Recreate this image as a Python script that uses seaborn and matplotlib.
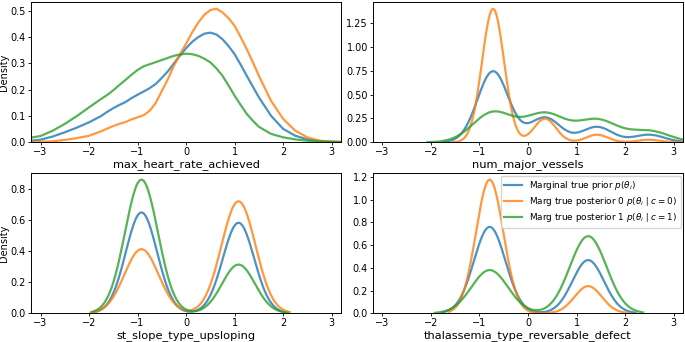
import numpy as np
import pandas as pd
import matplotlib
matplotlib.use("Agg")
import matplotlib.pyplot as plt
import seaborn as sns

# series
LABELS = [
    r"Marginal true prior $p(\theta_i)$",
    r"Marg true posterior 0 $p(\theta_i \mid c=0)$",
    r"Marg true posterior 1 $p(\theta_i \mid c=1)$",
]
COLORS = ["tab:blue", "tab:orange", "tab:green"]

# max_heart_rate_achieved: density
hr_x = [-3.25, -3.0, -2.75, -2.5, -2.25, -2.0, -1.75, -1.625, -1.5, -1.375, -1.25,
        -1.125, -1.0, -0.875, -0.75, -0.625, -0.5, -0.375, -0.25, -0.125, 0.0,
        0.125, 0.25, 0.375, 0.5, 0.625, 0.75, 0.875, 1.0, 1.125, 1.25, 1.375,
        1.5, 1.75, 2.0, 2.25, 2.5, 2.75, 3.0, 3.25]
hr_prior = [0.005, 0.010, 0.022, 0.038, 0.056, 0.076, 0.100, 0.116, 0.130, 0.142, 0.153,
            0.168, 0.181, 0.193, 0.206, 0.222, 0.245, 0.270, 0.300, 0.330, 0.358,
            0.382, 0.400, 0.413, 0.417, 0.410, 0.392, 0.366, 0.335, 0.295, 0.253, 0.212,
            0.171, 0.101, 0.051, 0.025, 0.011, 0.005, 0.002, 0.001]
hr_post0 = [0.001, 0.002, 0.004, 0.009, 0.016, 0.025, 0.042, 0.052, 0.062, 0.070, 0.077,
            0.087, 0.095, 0.103, 0.120, 0.150, 0.195, 0.240, 0.292, 0.335, 0.375,
            0.418, 0.455, 0.485, 0.503, 0.508, 0.494, 0.472, 0.443, 0.400, 0.354, 0.305,
            0.253, 0.158, 0.089, 0.044, 0.019, 0.006, 0.002, 0.001]
hr_post1 = [0.016, 0.024, 0.044, 0.070, 0.100, 0.133, 0.165, 0.180, 0.198, 0.218, 0.237,
            0.257, 0.275, 0.289, 0.297, 0.305, 0.313, 0.321, 0.329, 0.334, 0.337,
            0.335, 0.329, 0.318, 0.304, 0.281, 0.253, 0.216, 0.177, 0.142, 0.108, 0.082,
            0.059, 0.032, 0.019, 0.011, 0.006, 0.003, 0.002, 0.001]

# num_major_vessels: standardized levels, probabilities, kde bandwidth
nmv_levels = [-0.72, 0.35, 1.42, 2.49]
nmv_prior = [0.59, 0.205, 0.128, 0.063]
nmv_post0 = [0.79, 0.14, 0.045, 0.015]
nmv_post1 = [0.328, 0.309, 0.243, 0.124]
nmv_bw = [0.32, 0.227, 0.417]

# st_slope_type_upsloping
slope_levels = [-0.92, 1.08]
slope_prior = [0.527, 0.473]
slope_post0 = [0.364, 0.636]
slope_post1 = [0.733, 0.267]
slope_bw = [0.323, 0.351, 0.339]

# thalassemia_type_reversable_defect
thal_levels = [-0.79, 1.24]
thal_prior = [0.619, 0.381]
thal_post0 = [0.831, 0.169]
thal_post1 = [0.359, 0.641]
thal_bw = [0.325, 0.282, 0.377]

LW = 1.6
ALPHA = 0.8


def kde_line(ax, levels, probs, bw, color, label):
    x = np.asarray(levels, dtype=float)
    w = np.asarray(probs, dtype=float)
    std = np.sqrt(np.cov(x, aweights=w))
    sns.kdeplot(x=x, weights=w, bw_method=bw / std, ax=ax,
                color=color, label=label, lw=LW, alpha=ALPHA)


fig, axes = plt.subplots(2, 2, figsize=(6.85, 3.42), dpi=100)
fig.subplots_adjust(left=0.045, right=0.9975, top=0.994, bottom=0.084,
                    wspace=0.101, hspace=0.219)

# panel 1
ax = axes[0, 0]
for ys, c, lab in zip([hr_prior, hr_post0, hr_post1], COLORS, LABELS):
    sns.lineplot(x=hr_x, y=ys, ax=ax, color=c, label=lab, lw=LW, alpha=ALPHA,
                 legend=False)
ax.set_xlabel("max_heart_rate_achieved")

# panel 2-4
panels = [
    (axes[0, 1], nmv_levels, [nmv_prior, nmv_post0, nmv_post1], nmv_bw, "num_major_vessels"),
    (axes[1, 0], slope_levels, [slope_prior, slope_post0, slope_post1], slope_bw, "st_slope_type_upsloping"),
    (axes[1, 1], thal_levels, [thal_prior, thal_post0, thal_post1], thal_bw, "thalassemia_type_reversable_defect"),
]
for ax, levels, series, bws, name in panels:
    for probs, bw, c, lab in zip(series, bws, COLORS, LABELS):
        kde_line(ax, levels, probs, bw, c, lab)
    ax.set_xlabel(name)

for i, ax in enumerate(axes.flat):
    ax.set_xlim(-3.2, 3.2)
    ax.set_ylim(0, None)
    ax.set_xticks([-3, -2, -1, 0, 1, 2, 3])
    ax.tick_params(labelsize=7, length=2, width=0.6, pad=1.5)
    ax.set_xlabel(ax.get_xlabel(), fontsize=8.2, labelpad=1.5)
    ax.set_ylabel("Density" if i % 2 == 0 else "", fontsize=7, labelpad=1.5)
    for s in ax.spines.values():
        s.set_linewidth(0.7)
    leg = ax.get_legend()
    if leg is not None:
        leg.remove()

axes[1, 1].legend(loc="upper right", fontsize=6.4, labelspacing=0.35,
                  borderaxespad=0.3, handlelength=2.0)

fig.savefig("out.png", dpi=100)
